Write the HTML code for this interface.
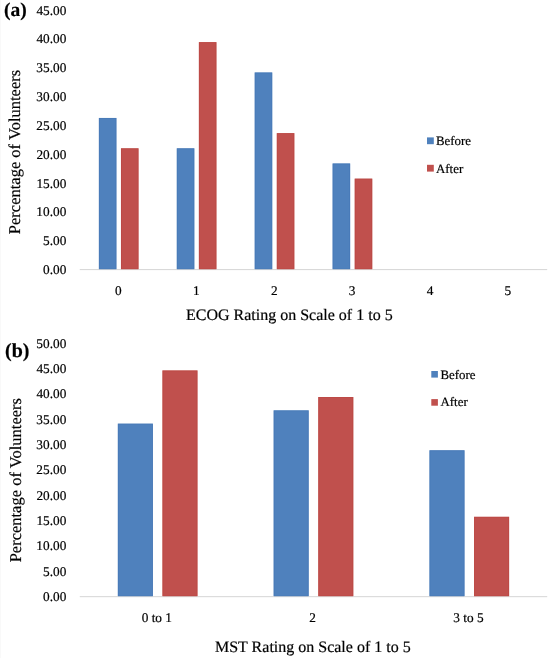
<!DOCTYPE html>
<html><head><meta charset="utf-8"><style>
html,body{margin:0;padding:0;background:#fff;width:548px;height:658px;overflow:hidden}
svg{display:block;will-change:transform}
text{font-family:"Liberation Serif",serif;fill:#000;stroke:#000;stroke-width:0.2px}
</style></head><body><svg width="548" height="658" viewBox="0 0 548 658" fill="#000"><rect x="0" y="0" width="1" height="658" fill="#F9F9F9"/><rect x="79.75" y="269.00" width="467.45" height="1.10" fill="#D9D9D9"/><text x="66.3" y="274.00" font-size="13.3" text-anchor="end" font-weight="normal" transform="matrix(1 0 0.001 1 -0.2740 0)">0.00</text><text x="66.3" y="245.18" font-size="13.3" text-anchor="end" font-weight="normal" transform="matrix(1 0 0.001 1 -0.2452 0)">5.00</text><text x="66.3" y="216.36" font-size="13.3" text-anchor="end" font-weight="normal" transform="matrix(1 0 0.001 1 -0.2164 0)">10.00</text><text x="66.3" y="187.54" font-size="13.3" text-anchor="end" font-weight="normal" transform="matrix(1 0 0.001 1 -0.1875 0)">15.00</text><text x="66.3" y="158.72" font-size="13.3" text-anchor="end" font-weight="normal" transform="matrix(1 0 0.001 1 -0.1587 0)">20.00</text><text x="66.3" y="129.90" font-size="13.3" text-anchor="end" font-weight="normal" transform="matrix(1 0 0.001 1 -0.1299 0)">25.00</text><text x="66.3" y="101.08" font-size="13.3" text-anchor="end" font-weight="normal" transform="matrix(1 0 0.001 1 -0.1011 0)">30.00</text><text x="66.3" y="72.26" font-size="13.3" text-anchor="end" font-weight="normal" transform="matrix(1 0 0.001 1 -0.0723 0)">35.00</text><text x="66.3" y="43.44" font-size="13.3" text-anchor="end" font-weight="normal" transform="matrix(1 0 0.001 1 -0.0434 0)">40.00</text><text x="66.3" y="14.62" font-size="13.3" text-anchor="end" font-weight="normal" transform="matrix(1 0 0.001 1 -0.0146 0)">45.00</text><rect x="98.85" y="117.94" width="17.60" height="151.06" fill="#4F81BD"/><rect x="99.35" y="118.44" width="16.60" height="150.56" fill="none" stroke="#4274B4" stroke-width="0.8" stroke-opacity="0.6"/><rect x="120.95" y="148.27" width="17.60" height="120.73" fill="#C0504D"/><rect x="121.45" y="148.77" width="16.60" height="120.23" fill="none" stroke="#B9453F" stroke-width="0.8" stroke-opacity="0.6"/><text x="118.40" y="295.5" font-size="13.3" text-anchor="middle" font-weight="normal" transform="matrix(1 0 0.001 1 -0.2955 0)">0</text><rect x="176.76" y="148.27" width="17.60" height="120.73" fill="#4F81BD"/><rect x="177.26" y="148.77" width="16.60" height="120.23" fill="none" stroke="#4274B4" stroke-width="0.8" stroke-opacity="0.6"/><rect x="198.86" y="42.11" width="17.60" height="226.89" fill="#C0504D"/><rect x="199.36" y="42.61" width="16.60" height="226.39" fill="none" stroke="#B9453F" stroke-width="0.8" stroke-opacity="0.6"/><text x="196.31" y="295.5" font-size="13.3" text-anchor="middle" font-weight="normal" transform="matrix(1 0 0.001 1 -0.2955 0)">1</text><rect x="254.67" y="72.44" width="17.60" height="196.56" fill="#4F81BD"/><rect x="255.17" y="72.94" width="16.60" height="196.06" fill="none" stroke="#4274B4" stroke-width="0.8" stroke-opacity="0.6"/><rect x="276.77" y="133.11" width="17.60" height="135.89" fill="#C0504D"/><rect x="277.27" y="133.61" width="16.60" height="135.39" fill="none" stroke="#B9453F" stroke-width="0.8" stroke-opacity="0.6"/><text x="274.22" y="295.5" font-size="13.3" text-anchor="middle" font-weight="normal" transform="matrix(1 0 0.001 1 -0.2955 0)">2</text><rect x="332.58" y="163.44" width="17.60" height="105.56" fill="#4F81BD"/><rect x="333.08" y="163.94" width="16.60" height="105.06" fill="none" stroke="#4274B4" stroke-width="0.8" stroke-opacity="0.6"/><rect x="354.68" y="178.61" width="17.60" height="90.39" fill="#C0504D"/><rect x="355.18" y="179.11" width="16.60" height="89.89" fill="none" stroke="#B9453F" stroke-width="0.8" stroke-opacity="0.6"/><text x="352.13" y="295.5" font-size="13.3" text-anchor="middle" font-weight="normal" transform="matrix(1 0 0.001 1 -0.2955 0)">3</text><text x="430.04" y="295.5" font-size="13.3" text-anchor="middle" font-weight="normal" transform="matrix(1 0 0.001 1 -0.2955 0)">4</text><text x="507.95" y="295.5" font-size="13.3" text-anchor="middle" font-weight="normal" transform="matrix(1 0 0.001 1 -0.2955 0)">5</text><text x="186" y="319.7" font-size="16" text-anchor="start" font-weight="normal" transform="matrix(1 0 0.001 1 -0.3197 0)">ECOG Rating on Scale of 1 to 5</text><g transform="rotate(-90 20.0 152)"><text x="20.0" y="152" font-size="16.5" text-anchor="middle" font-weight="normal" transform="matrix(1 0 0.001 1 -0.1520 0)">Percentage of Volunteers</text></g><text x="3.9" y="16" font-size="19.5" text-anchor="start" font-weight="bold" transform="matrix(1 0 0.001 1 -0.0160 0)">(a)</text><rect x="427.00" y="137.40" width="6.80" height="6.80" fill="#4F81BD"/><text x="436.0" y="145.5" font-size="12.9" text-anchor="start" font-weight="normal" transform="matrix(1 0 0.001 1 -0.1455 0)">Before</text><rect x="427.00" y="164.80" width="6.80" height="6.80" fill="#C0504D"/><text x="436.0" y="172.9" font-size="12.9" text-anchor="start" font-weight="normal" transform="matrix(1 0 0.001 1 -0.1729 0)">After</text><rect x="79.75" y="596.10" width="467.45" height="1.10" fill="#D9D9D9"/><text x="66.3" y="601.00" font-size="13.3" text-anchor="end" font-weight="normal" transform="matrix(1 0 0.001 1 -0.6010 0)">0.00</text><text x="66.3" y="575.68" font-size="13.3" text-anchor="end" font-weight="normal" transform="matrix(1 0 0.001 1 -0.5757 0)">5.00</text><text x="66.3" y="550.36" font-size="13.3" text-anchor="end" font-weight="normal" transform="matrix(1 0 0.001 1 -0.5504 0)">10.00</text><text x="66.3" y="525.04" font-size="13.3" text-anchor="end" font-weight="normal" transform="matrix(1 0 0.001 1 -0.5250 0)">15.00</text><text x="66.3" y="499.72" font-size="13.3" text-anchor="end" font-weight="normal" transform="matrix(1 0 0.001 1 -0.4997 0)">20.00</text><text x="66.3" y="474.40" font-size="13.3" text-anchor="end" font-weight="normal" transform="matrix(1 0 0.001 1 -0.4744 0)">25.00</text><text x="66.3" y="449.08" font-size="13.3" text-anchor="end" font-weight="normal" transform="matrix(1 0 0.001 1 -0.4491 0)">30.00</text><text x="66.3" y="423.76" font-size="13.3" text-anchor="end" font-weight="normal" transform="matrix(1 0 0.001 1 -0.4238 0)">35.00</text><text x="66.3" y="398.44" font-size="13.3" text-anchor="end" font-weight="normal" transform="matrix(1 0 0.001 1 -0.3984 0)">40.00</text><text x="66.3" y="373.12" font-size="13.3" text-anchor="end" font-weight="normal" transform="matrix(1 0 0.001 1 -0.3731 0)">45.00</text><text x="66.3" y="347.80" font-size="13.3" text-anchor="end" font-weight="normal" transform="matrix(1 0 0.001 1 -0.3478 0)">50.00</text><rect x="117.81" y="423.63" width="35.10" height="172.37" fill="#4F81BD"/><rect x="118.31" y="424.13" width="34.10" height="171.87" fill="none" stroke="#4274B4" stroke-width="0.8" stroke-opacity="0.6"/><rect x="162.41" y="370.41" width="35.10" height="225.59" fill="#C0504D"/><rect x="162.91" y="370.91" width="34.10" height="225.09" fill="none" stroke="#B9453F" stroke-width="0.8" stroke-opacity="0.6"/><text x="156.86" y="622.5" font-size="13.3" text-anchor="middle" font-weight="normal" transform="matrix(1 0 0.001 1 -0.6225 0)">0 to 1</text><rect x="273.62" y="410.33" width="35.10" height="185.67" fill="#4F81BD"/><rect x="274.12" y="410.83" width="34.10" height="185.17" fill="none" stroke="#4274B4" stroke-width="0.8" stroke-opacity="0.6"/><rect x="318.23" y="397.02" width="35.10" height="198.98" fill="#C0504D"/><rect x="318.73" y="397.52" width="34.10" height="198.48" fill="none" stroke="#B9453F" stroke-width="0.8" stroke-opacity="0.6"/><text x="312.68" y="622.5" font-size="13.3" text-anchor="middle" font-weight="normal" transform="matrix(1 0 0.001 1 -0.6225 0)">2</text><rect x="429.44" y="450.24" width="35.10" height="145.76" fill="#4F81BD"/><rect x="429.94" y="450.74" width="34.10" height="145.26" fill="none" stroke="#4274B4" stroke-width="0.8" stroke-opacity="0.6"/><rect x="474.04" y="516.77" width="35.10" height="79.23" fill="#C0504D"/><rect x="474.54" y="517.27" width="34.10" height="78.73" fill="none" stroke="#B9453F" stroke-width="0.8" stroke-opacity="0.6"/><text x="468.49" y="622.5" font-size="13.3" text-anchor="middle" font-weight="normal" transform="matrix(1 0 0.001 1 -0.6225 0)">3 to 5</text><text x="215" y="651.9" font-size="16" text-anchor="start" font-weight="normal" transform="matrix(1 0 0.001 1 -0.6519 0)">MST Rating on Scale of 1 to 5</text><g transform="rotate(-90 21.0 480.2)"><text x="21.0" y="480.2" font-size="16.5" text-anchor="middle" font-weight="normal" transform="matrix(1 0 0.001 1 -0.4802 0)">Percentage of Volunteers</text></g><text x="5.0" y="356.8" font-size="20" text-anchor="start" font-weight="bold" transform="matrix(1 0 0.001 1 -0.3568 0)">(b)</text><rect x="431.30" y="371.00" width="6.60" height="6.60" fill="#4F81BD"/><text x="440.5" y="378.7" font-size="12.9" text-anchor="start" font-weight="normal" transform="matrix(1 0 0.001 1 -0.3787 0)">Before</text><rect x="431.30" y="399.10" width="6.60" height="6.60" fill="#C0504D"/><text x="440.5" y="406.2" font-size="12.9" text-anchor="start" font-weight="normal" transform="matrix(1 0 0.001 1 -0.4062 0)">After</text></svg></body></html>
